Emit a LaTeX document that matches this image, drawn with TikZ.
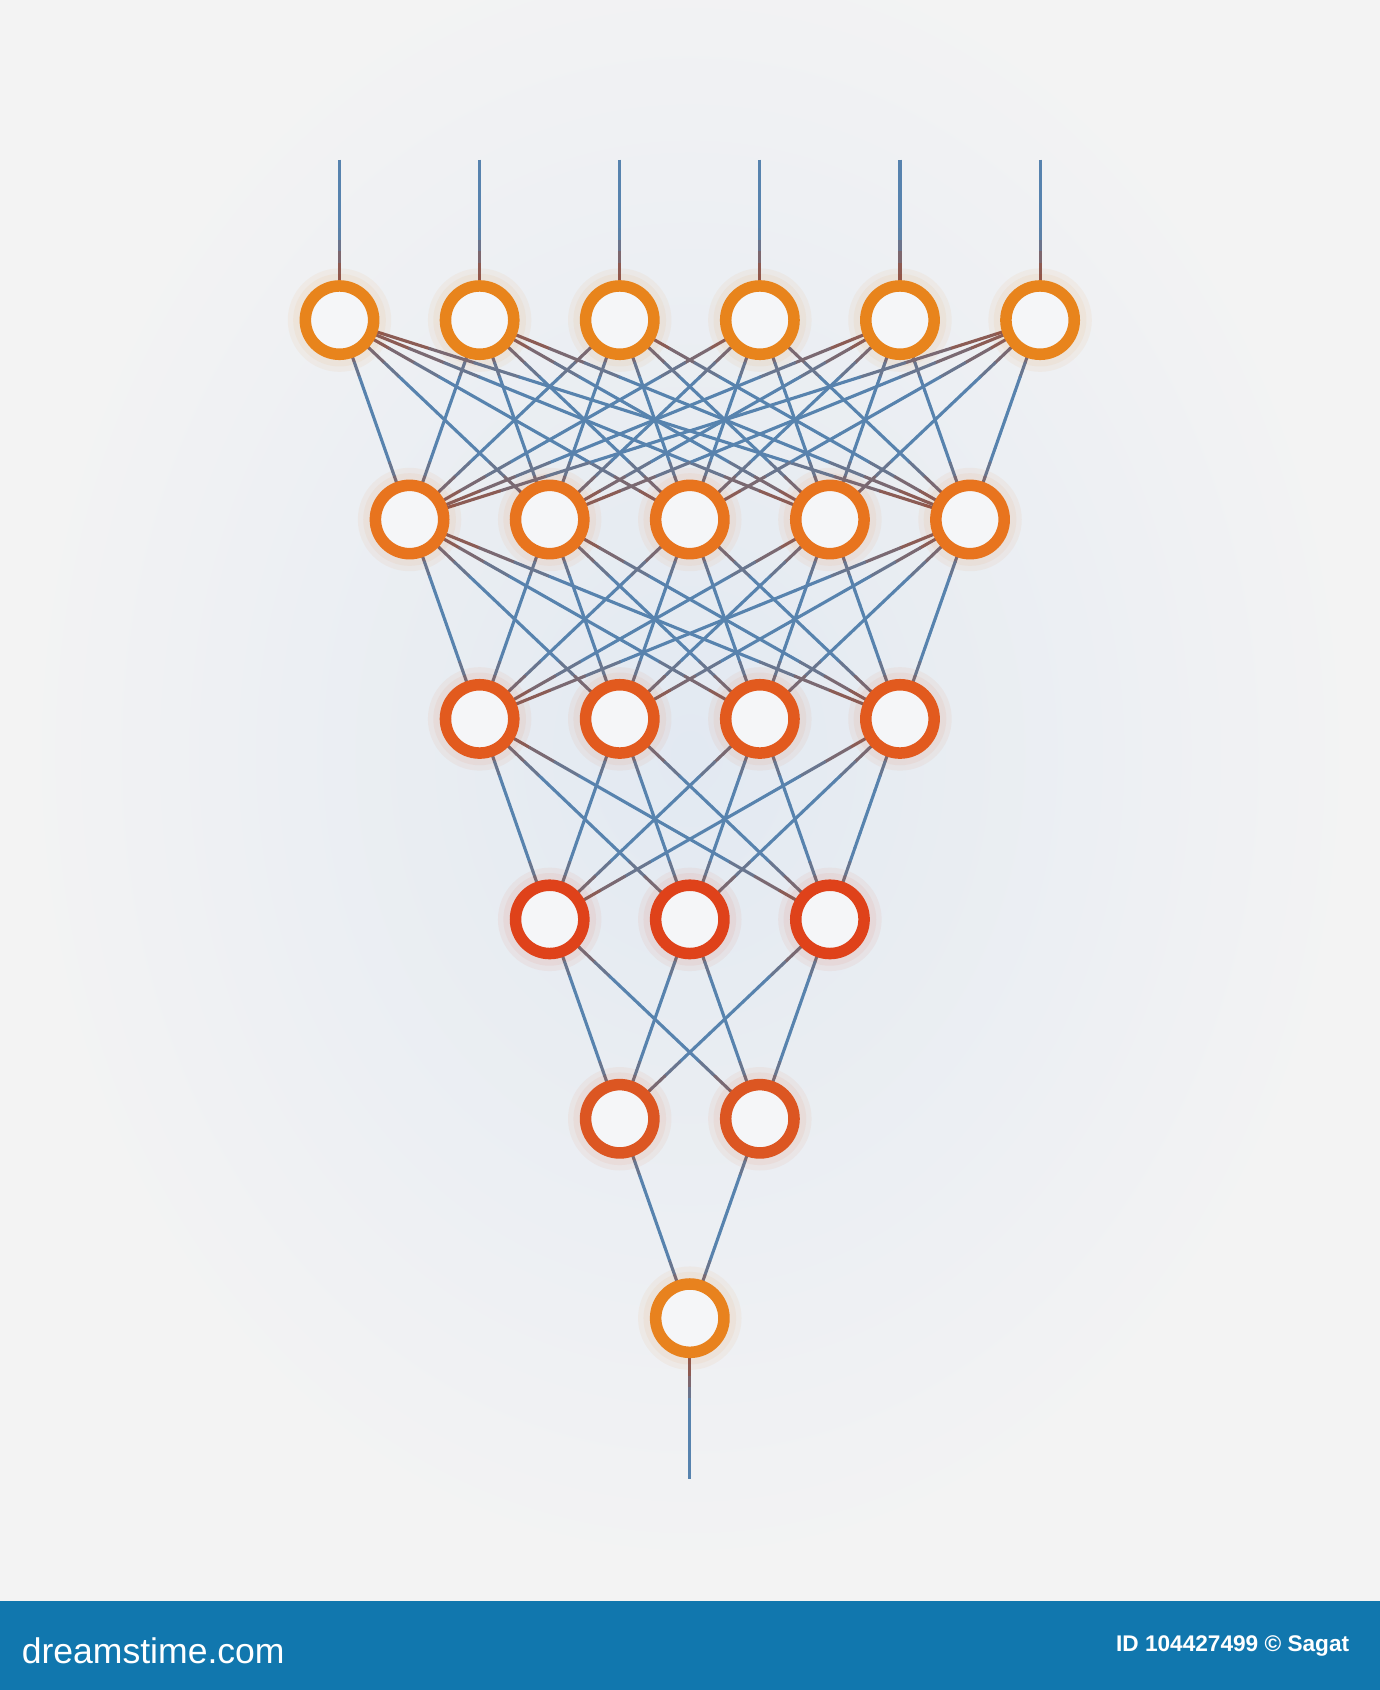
\documentclass[tikz,border=0pt]{standalone}
\usepackage{fontspec}
\setmainfont{Liberation Sans}
\usetikzlibrary{calc}
\pgfdeclarelayer{back}
\pgfdeclarelayer{lines}
\pgfsetlayers{back,lines,main}
\definecolor{bg}{HTML}{F3F3F3}
\definecolor{bgc}{HTML}{E2E9F2}
\definecolor{lnb}{HTML}{5783AE}
\definecolor{lnr}{HTML}{935648}
\definecolor{ringA}{HTML}{E8841C}
\definecolor{ringB}{HTML}{E8741E}
\definecolor{ringC}{HTML}{E25A1E}
\definecolor{ringD}{HTML}{DF421A}
\definecolor{ringE}{HTML}{DC5622}
\definecolor{ringF}{HTML}{E8821E}
\definecolor{inner}{HTML}{F5F6F8}
\definecolor{bar}{HTML}{1177AE}
\tikzset{
  neuron/.style={circle, minimum size=63.4pt, inner sep=0pt, line width=10.7pt, fill=inner, draw=#1},
  wire/.style={line width=2.9pt, line cap=round},
  halo/.style={fill=#1, opacity=0.06},
}
\newcommand\conn[2]{%
  \foreach \k in {0,...,13}{%
    \pgfmathsetmacro\ta{\k/14}%
    \pgfmathsetmacro\tb{(\k+1)/14}%
    \pgfmathsetmacro\dd{abs((\k+0.5)/14-0.5)*2}%
    \pgfmathsetmacro\p{max(0,min(100,(0.85-\dd)*200))}%
    \draw[wire, lnb!\p!lnr] ($(#1.center)!\ta!(#2.center)$) -- ($(#1.center)!\tb!(#2.center)$);
  }}
\newcommand\stub[2]{%
  \foreach \k in {0,...,13}{%
    \pgfmathsetmacro\ta{\k/14}%
    \pgfmathsetmacro\tb{(\k+1)/14}%
    \pgfmathsetmacro\tm{(\k+0.5)/14}%
    \pgfmathsetmacro\p{max(0,min(100,(0.70-\tm)*400))}%
    \draw[wire, line cap=butt, lnb!\p!lnr] ($(#1)!\ta!(#2.center)$) -- ($(#1)!\tb!(#2.center)$);
  }}
\begin{document}
\begin{tikzpicture}[x=1pt,y=-1pt]
\useasboundingbox (0,0) rectangle (1280,1568);
\begin{pgfonlayer}{back}
\fill[bg] (0,0) rectangle (1280,1568);
\shade[inner color=bgc, outer color=bg] (640,700) ellipse (620 and 760);
\end{pgfonlayer}
% nodes
\foreach \i/\x in {1/315,2/445,3/575,4/705,5/835,6/965} \node[neuron=ringA] (a\i) at (\x,297) {};
\foreach \i/\x in {1/380,2/510,3/640,4/770,5/900} \node[neuron=ringB] (b\i) at (\x,482) {};
\foreach \i/\x in {1/445,2/575,3/705,4/835} \node[neuron=ringC] (c\i) at (\x,667) {};
\foreach \i/\x in {1/510,2/640,3/770} \node[neuron=ringD] (d\i) at (\x,853) {};
\foreach \i/\x in {1/575,2/705} \node[neuron=ringE] (e\i) at (\x,1038) {};
\node[neuron=ringF] (f1) at (640,1223) {};
% soft glow round the rings
\begin{pgfonlayer}{back}
\foreach \n/\c in {a1/ringA,a2/ringA,a3/ringA,a4/ringA,a5/ringA,a6/ringA,b1/ringB,b2/ringB,b3/ringB,b4/ringB,b5/ringB,c1/ringC,c2/ringC,c3/ringC,c4/ringC,d1/ringD,d2/ringD,d3/ringD,e1/ringE,e2/ringE,f1/ringF}{%
  \fill[halo=\c] (\n.center) circle (48);
  \fill[halo=\c] (\n.center) circle (43);
}
\end{pgfonlayer}
% input stubs and output
\foreach \i/\x in {1/315,2/445,3/575,4/705,5/835,6/965} \coordinate (in\i) at (\x,148);
\coordinate (out) at (640,1372);
\begin{pgfonlayer}{lines}
\foreach \i in {1,...,6} {\stub{in\i}{a\i}}
\stub{out}{f1}
\foreach \i in {1,...,6} \foreach \j in {1,...,5} {\conn{a\i}{b\j}}
\foreach \i in {1,...,5} \foreach \j in {1,...,4} {\conn{b\i}{c\j}}
\foreach \i in {1,...,4} \foreach \j in {1,...,3} {\conn{c\i}{d\j}}
\foreach \i in {1,...,3} \foreach \j in {1,2} {\conn{d\i}{e\j}}
\foreach \i in {1,2} {\conn{e\i}{f1}}
\end{pgfonlayer}
% bottom bar
\fill[bar] (0,1485) rectangle (1280,1568);
\node[anchor=west, text=white, font=\fontsize{33}{36}\selectfont, inner sep=0pt] (logo) at (20,1532) {dreamstime.com};
\node[anchor=east, text=white, font=\bfseries\fontsize{21}{24}\selectfont, inner sep=0pt] (credit) at (1252,1527) {ID 104427499 © Sagat};
\end{tikzpicture}
\end{document}
